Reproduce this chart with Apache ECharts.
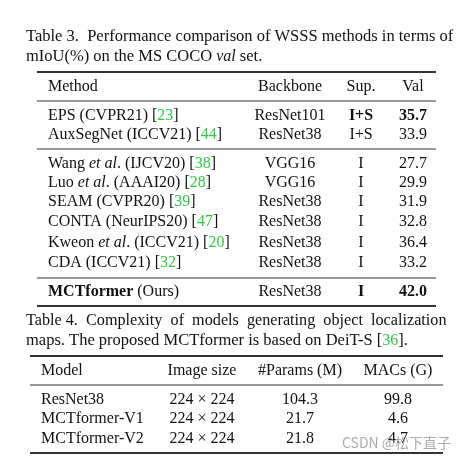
<!DOCTYPE html>
<html>
<head>
<meta charset="utf-8">
<script src="https://cdn.jsdelivr.net/npm/echarts@6/dist/echarts.min.js"></script>
<style>html,body{margin:0;padding:0;background:#fff}#chart{width:474px;height:460px}</style>
</head>
<body>
<div id="chart"></div>
<script>
// Table 3 data (rich-text markup: {i|..} italic, {g|..} green ref, {b|..} bold)
const methods = [
    'EPS (CVPR21) [{g|23}]',
    'AuxSegNet (ICCV21) [{g|44}]',
    'Wang {i|et al}. (IJCV20) [{g|38}]',
    'Luo {i|et al}. (AAAI20) [{g|28}]',
    'SEAM (CVPR20) [{g|39}]',
    'CONTA (NeurIPS20) [{g|47}]',
    'Kweon {i|et al}. (ICCV21) [{g|20}]',
    'CDA (ICCV21) [{g|32}]',
    '{b|MCTformer} (Ours)'
];
const backbones = ['ResNet101', 'ResNet38', 'VGG16', 'VGG16', 'ResNet38', 'ResNet38', 'ResNet38', 'ResNet38', 'ResNet38'];
const sups = ['I+S', 'I+S', 'I', 'I', 'I', 'I', 'I', 'I', 'I'];
const vals = ['35.7', '33.9', '27.7', '29.9', '31.9', '32.8', '36.4', '33.2', '42.0'];
const boldRows = [0, 8];

// Table 4 data
const models = ['ResNet38', 'MCTformer-V1', 'MCTformer-V2'];
const imageSizes = ['224 × 224', '224 × 224', '224 × 224'];
const params = ['104.3', '21.7', '21.8'];
const macs = ['99.8', '4.6', '4.7'];

const FONT = '"Liberation Serif", "DejaVu Serif", serif';
const FS = 16;
const rich = {
    i: {fontStyle: 'italic', fontFamily: FONT, fontSize: FS, fill: '#111'},
    g: {fontFamily: FONT, fontSize: FS, fill: '#2ecc40'},
    b: {fontWeight: 'bold', fontFamily: FONT, fontSize: FS, fill: '#111'}
};

const els = [];
function txt(x, y, s, align, bold, size) {
    els.push({
        type: 'text', x: x, y: y, z: 10,
        style: {
            text: s, x: 0, y: 0, fill: '#111', fontFamily: FONT,
            fontSize: size || FS, fontWeight: bold ? 'bold' : 'normal',
            align: align || 'left', verticalAlign: 'middle', rich: rich
        }
    });
}
function rule(x1, x2, y, w) {
    els.push({type: 'line', shape: {x1: x1, y1: y, x2: x2, y2: y}, style: {stroke: '#333', lineWidth: w}});
}

// Table 3 caption
txt(26, 37, 'Table 3.  Performance comparison of WSSS methods in terms of', 'left', false, 16.5);
txt(26, 57, 'mIoU(%) on the MS COCO {i|val} set.', 'left', false, 16.5);

rule(37, 436, 72, 1.8);
txt(48, 87, 'Method');
txt(290, 87, 'Backbone', 'center');
txt(361, 87, 'Sup.', 'center');
txt(413, 87, 'Val', 'center');
rule(37, 436, 101, 1.2);

const rowY = [116, 135, 164, 183, 202, 222, 243, 263, 292];
methods.forEach(function (m, k) {
    const b = boldRows.indexOf(k) >= 0;
    txt(48, rowY[k], m);
    txt(290, rowY[k], backbones[k], 'center');
    txt(361, rowY[k], sups[k], 'center', b);
    txt(413, rowY[k], vals[k], 'center', b);
});
rule(37, 436, 149, 1.2);
rule(37, 436, 278, 1.2);
rule(37, 436, 306, 1.8);

// Table 4 caption
txt(26, 321, 'Table 4.  Complexity  of  models  generating  object  localization', 'left', false, 16.2);
txt(26, 341, 'maps. The proposed MCTformer is based on DeiT-S [{g|36}].', 'left', false, 16.5);

rule(30, 443, 356, 1.8);
txt(41, 371, 'Model');
txt(202, 371, 'Image size', 'center');
txt(300, 371, '#Params (M)', 'center');
txt(398, 371, 'MACs (G)', 'center');
rule(30, 443, 385, 1.2);
const row4Y = [400, 419, 439];
models.forEach(function (m, k) {
    txt(41, row4Y[k], m);
    txt(202, row4Y[k], imageSizes[k], 'center');
    txt(300, row4Y[k], params[k], 'center');
    txt(398, row4Y[k], macs[k], 'center');
});
rule(30, 443, 453, 1.8);

// watermark
els.push({
    type: 'text', x: 342, y: 443, z: 20,
    style: {text: 'CSDN @松下直子', fill: 'rgba(150,150,150,0.8)', fontSize: 14,
        fontFamily: '"Noto Sans CJK SC", sans-serif', verticalAlign: 'middle'}
});

const chart = echarts.init(document.getElementById('chart'));
chart.setOption({backgroundColor: '#fff', graphic: {elements: els}});
</script>
</body>
</html>
